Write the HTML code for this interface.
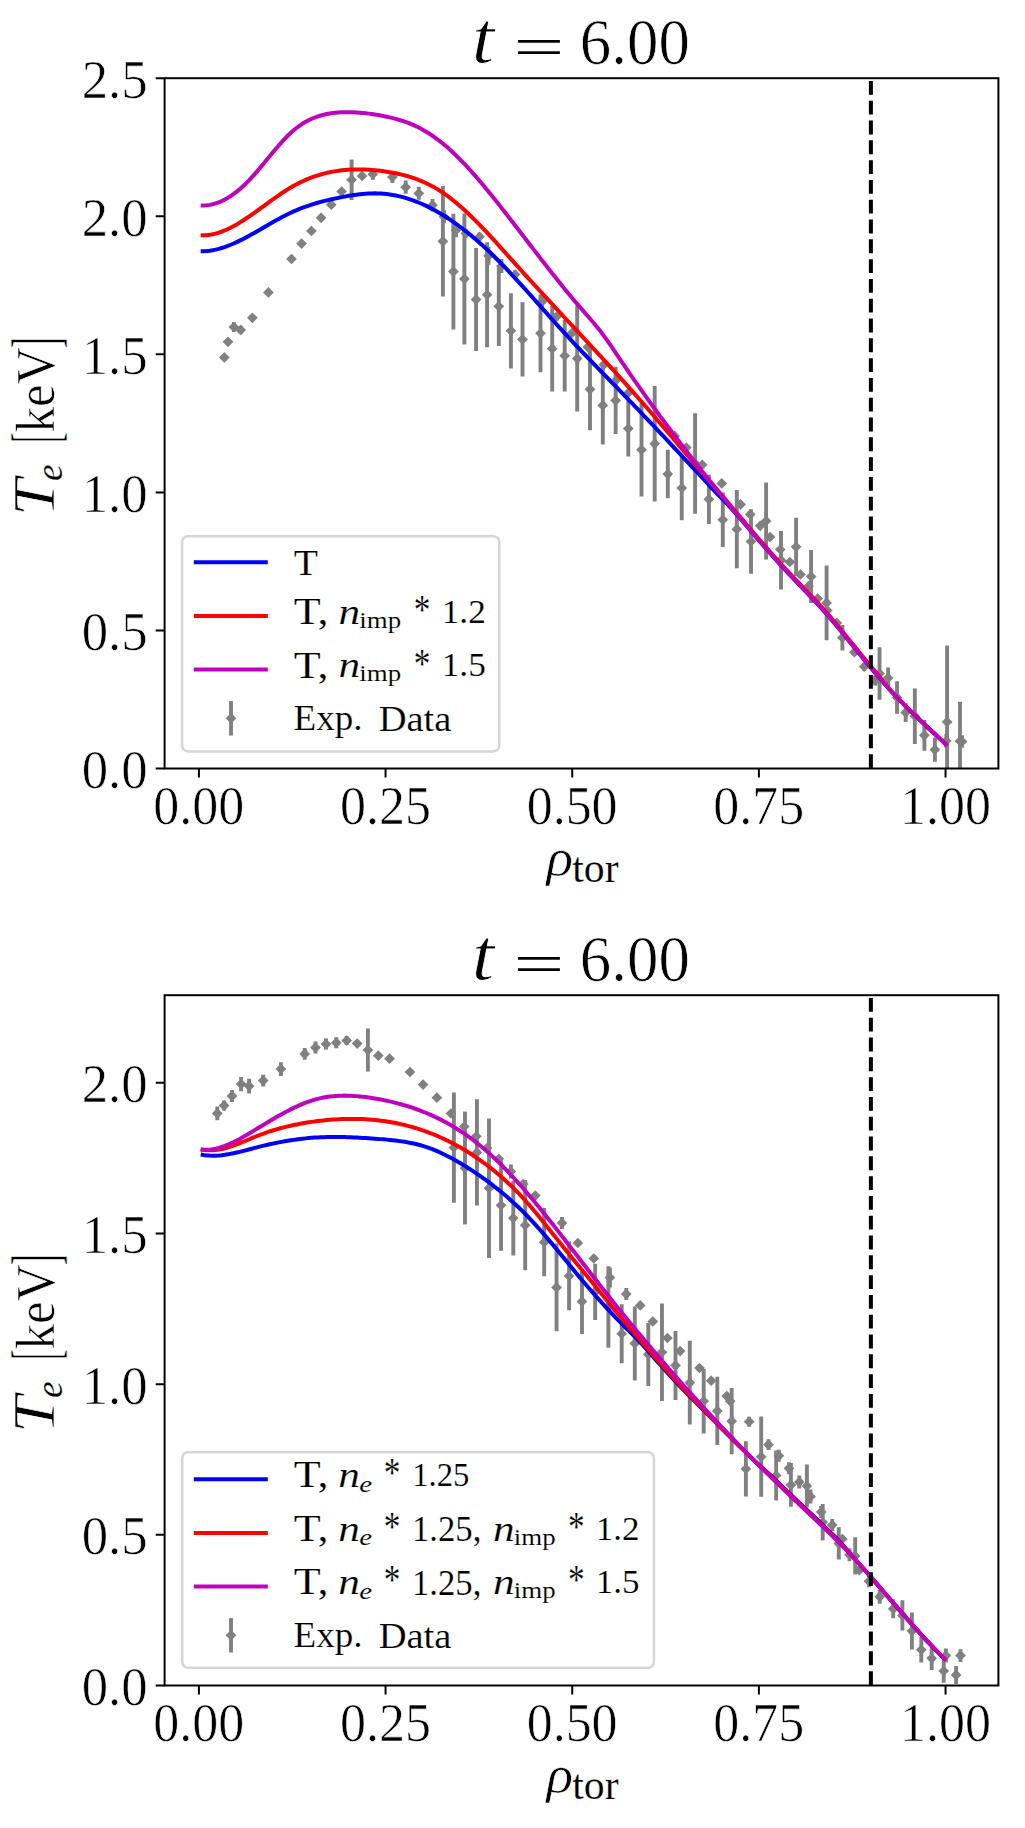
<!DOCTYPE html>
<html lang="en"><head><meta charset="utf-8"><title>T_e profiles, t = 6.00</title>
<style>html,body{margin:0;padding:0;background:#fff}svg{display:block}</style></head>
<body>
<svg width="1025" height="1828" viewBox="0 0 1025 1828" font-family="'Liberation Serif', serif" fill="#000">
<rect width="1025" height="1828" fill="#fff"/>
<defs><clipPath id="c1"><rect x="164.6" y="78.2" width="833.8" height="690.3"/></clipPath><clipPath id="c2"><rect x="164.6" y="995.2" width="833.8" height="690.3"/></clipPath></defs>
<g clip-path="url(#c1)">
<path d="M233.9 322V332M240.7 325.9V333.9M351.6 159.6V200M372.8 168.6V179.8M392.4 171.1V183.1M405.7 180.6V193.8M418.8 186.8V199.8M432.5 198.9V211.5M444 210.3V223.3M456 223.2V237.2M465.9 229.4V237.4M479.5 232.8V240.8M488.5 246.8V264.8M501.4 259.1V273.1M515.1 270.5V278.5M542 296.7V306.7M556.2 313.1V321.1M864.2 662.7V670.7M875.2 675.5V685.5M962 735.3V747.7M442.9 186V296.6M453.4 213.7V329.5M464.4 213.4V344.4M476.1 248.1V351M487.1 242.2V347.3M498.8 266.5V346.1M510.9 293.2V368.5M522.5 302.2V376.6M540.5 294.5V372.2M552.2 306V391.5M564.7 320.1V391.4M577.2 305.5V411.6M590 348.5V430.2M602.8 366.2V444.6M615.65 366.8V434.1M628.3 400.8V456.4M641.5 403V496.6M654.7 386V501.4M667.8 449.8V498.3M681.75 455.8V520.2M695.1 413.2V513.7M708.9 474.7V523.9M722.8 492.6V546.9M736.8 490.1V568.3M751 509.3V573.7M766.1 482.5V559.5M781 530.9V589.5M796.1 517.8V575.9M811.1 550V603M826.6 565.6V640.2M842.4 625.1V650.4M879.55 647.35V699.8M888.1 667.4V688.5M897.05 681.2V713.7M905.7 703.2V721.9M914.85 688.5V743.9M924.4 720V750.7M934.9 737.6V761.7M947.1 645.4V798.4M946.3 734V748M960 701.7V780.7" fill="none" stroke="#808080" stroke-width="3.9"/>
<path d="M224.3 352.03L229.67 357.4L224.3 362.77L218.93 357.4ZM228 336.43L233.37 341.8L228 347.17L222.63 341.8ZM233.9 321.63L239.27 327L233.9 332.37L228.53 327ZM240.7 324.53L246.07 329.9L240.7 335.27L235.33 329.9ZM252.4 312.43L257.77 317.8L252.4 323.17L247.03 317.8ZM268.4 287.03L273.77 292.4L268.4 297.77L263.03 292.4ZM291.5 253.63L296.87 259L291.5 264.37L286.13 259ZM301.6 238.23L306.97 243.6L301.6 248.97L296.23 243.6ZM311.4 225.63L316.77 231L311.4 236.37L306.03 231ZM321.1 212.43L326.47 217.8L321.1 223.17L315.73 217.8ZM331.3 199.33L336.67 204.7L331.3 210.07L325.93 204.7ZM341.6 186.13L346.97 191.5L341.6 196.87L336.23 191.5ZM351.6 174.43L356.97 179.8L351.6 185.17L346.23 179.8ZM362.1 170.53L367.47 175.9L362.1 181.27L356.73 175.9ZM372.8 168.83L378.17 174.2L372.8 179.57L367.43 174.2ZM392.4 171.73L397.77 177.1L392.4 182.47L387.03 177.1ZM405.7 181.83L411.07 187.2L405.7 192.57L400.33 187.2ZM418.8 187.93L424.17 193.3L418.8 198.67L413.43 193.3ZM432.5 199.83L437.87 205.2L432.5 210.57L427.13 205.2ZM444 211.43L449.37 216.8L444 222.17L438.63 216.8ZM456 224.83L461.37 230.2L456 235.57L450.63 230.2ZM465.9 228.03L471.27 233.4L465.9 238.77L460.53 233.4ZM479.5 231.43L484.87 236.8L479.5 242.17L474.13 236.8ZM488.5 250.43L493.87 255.8L488.5 261.17L483.13 255.8ZM501.4 260.73L506.77 266.1L501.4 271.47L496.03 266.1ZM515.1 269.13L520.47 274.5L515.1 279.87L509.73 274.5ZM542 296.33L547.37 301.7L542 307.07L536.63 301.7ZM556.2 311.73L561.57 317.1L556.2 322.47L550.83 317.1ZM572 327.63L577.37 333L572 338.37L566.63 333ZM587.8 341.73L593.17 347.1L587.8 352.47L582.43 347.1ZM603.9 359.23L609.27 364.6L603.9 369.97L598.53 364.6ZM617 373.93L622.37 379.3L617 384.67L611.63 379.3ZM628.8 387.03L634.17 392.4L628.8 397.77L623.43 392.4ZM674.6 430.53L679.97 435.9L674.6 441.27L669.23 435.9ZM686.3 442.23L691.67 447.6L686.3 452.97L680.93 447.6ZM702.2 459.43L707.57 464.8L702.2 470.17L696.83 464.8ZM721.8 478.03L727.17 483.4L721.8 488.77L716.43 483.4ZM740.6 499.03L745.97 504.4L740.6 509.77L735.23 504.4ZM750.2 509.03L755.57 514.4L750.2 519.77L744.83 514.4ZM760.2 520.43L765.57 525.8L760.2 531.17L754.83 525.8ZM770 531.73L775.37 537.1L770 542.47L764.63 537.1ZM780.2 544.13L785.57 549.5L780.2 554.87L774.83 549.5ZM789.8 556.63L795.17 562L789.8 567.37L784.43 562ZM800.5 569.13L805.87 574.5L800.5 579.87L795.13 574.5ZM808.5 580.83L813.87 586.2L808.5 591.57L803.13 586.2ZM817.7 593.23L823.07 598.6L817.7 603.97L812.33 598.6ZM827.3 605.13L832.67 610.5L827.3 615.87L821.93 610.5ZM836.8 617.53L842.17 622.9L836.8 628.27L831.43 622.9ZM854.4 646.83L859.77 652.2L854.4 657.57L849.03 652.2ZM864.2 661.33L869.57 666.7L864.2 672.07L858.83 666.7ZM875.2 675.13L880.57 680.5L875.2 685.87L869.83 680.5ZM962 736.13L967.37 741.5L962 746.87L956.63 741.5ZM442.9 235.93L448.27 241.3L442.9 246.67L437.53 241.3ZM453.4 266.23L458.77 271.6L453.4 276.97L448.03 271.6ZM464.4 273.53L469.77 278.9L464.4 284.27L459.03 278.9ZM476.1 294.18L481.47 299.55L476.1 304.92L470.73 299.55ZM487.1 289.38L492.47 294.75L487.1 300.12L481.73 294.75ZM498.8 300.93L504.17 306.3L498.8 311.67L493.43 306.3ZM510.9 325.48L516.27 330.85L510.9 336.22L505.53 330.85ZM522.5 334.03L527.87 339.4L522.5 344.77L517.13 339.4ZM540.5 327.98L545.87 333.35L540.5 338.72L535.13 333.35ZM552.2 343.38L557.57 348.75L552.2 354.12L546.83 348.75ZM564.7 350.38L570.07 355.75L564.7 361.12L559.33 355.75ZM577.2 353.18L582.57 358.55L577.2 363.92L571.83 358.55ZM590 383.98L595.37 389.35L590 394.72L584.63 389.35ZM602.8 400.03L608.17 405.4L602.8 410.77L597.43 405.4ZM615.65 395.08L621.02 400.45L615.65 405.82L610.28 400.45ZM628.3 423.23L633.67 428.6L628.3 433.97L622.93 428.6ZM641.5 444.43L646.87 449.8L641.5 455.17L636.13 449.8ZM654.7 438.33L660.07 443.7L654.7 449.07L649.33 443.7ZM667.8 468.68L673.17 474.05L667.8 479.42L662.43 474.05ZM681.75 482.63L687.12 488L681.75 493.37L676.38 488ZM695.1 458.08L700.47 463.45L695.1 468.82L689.73 463.45ZM708.9 493.93L714.27 499.3L708.9 504.67L703.53 499.3ZM722.8 514.38L728.17 519.75L722.8 525.12L717.43 519.75ZM736.8 523.83L742.17 529.2L736.8 534.57L731.43 529.2ZM751 536.13L756.37 541.5L751 546.87L745.63 541.5ZM766.1 515.63L771.47 521L766.1 526.37L760.73 521ZM781 554.83L786.37 560.2L781 565.57L775.63 560.2ZM796.1 541.48L801.47 546.85L796.1 552.22L790.73 546.85ZM811.1 571.13L816.47 576.5L811.1 581.87L805.73 576.5ZM826.6 597.53L831.97 602.9L826.6 608.27L821.23 602.9ZM842.4 632.38L847.77 637.75L842.4 643.12L837.03 637.75ZM879.55 668.2L884.92 673.58L879.55 678.95L874.18 673.58ZM888.1 672.58L893.47 677.95L888.1 683.32L882.73 677.95ZM897.05 692.08L902.42 697.45L897.05 702.82L891.68 697.45ZM905.7 707.18L911.07 712.55L905.7 717.92L900.33 712.55ZM914.85 710.83L920.22 716.2L914.85 721.57L909.48 716.2ZM924.4 729.98L929.77 735.35L924.4 740.72L919.03 735.35ZM934.9 744.28L940.27 749.65L934.9 755.02L929.53 749.65ZM947.1 716.53L952.47 721.9L947.1 727.27L941.73 721.9ZM946.3 735.63L951.67 741L946.3 746.37L940.93 741ZM960 735.83L965.37 741.2L960 746.57L954.63 741.2Z" fill="#808080"/>
<path d="M200.7 251.17 L203.7 251.17 L206.7 251.01 L209.7 250.69 L212.7 250.22 L215.7 249.61 L218.7 248.87 L221.7 248.01 L224.7 247.03 L227.7 245.94 L230.7 244.75 L233.7 243.47 L236.7 242.11 L239.7 240.68 L242.7 239.18 L245.7 237.62 L248.7 236 L251.7 234.35 L254.7 232.67 L257.7 230.95 L260.7 229.22 L263.7 227.48 L266.7 225.75 L269.7 224.01 L272.7 222.3 L275.7 220.6 L278.7 218.94 L281.7 217.32 L284.7 215.74 L287.7 214.23 L290.7 212.77 L293.7 211.39 L296.7 210.09 L299.7 208.85 L302.7 207.69 L305.7 206.59 L308.7 205.55 L311.7 204.57 L314.7 203.64 L317.7 202.77 L320.7 201.94 L323.7 201.16 L326.7 200.41 L329.7 199.7 L332.7 199.03 L335.7 198.38 L338.7 197.76 L341.7 197.16 L344.7 196.59 L347.7 196.05 L350.7 195.54 L353.7 195.07 L356.7 194.65 L359.7 194.28 L362.7 193.97 L365.7 193.71 L368.7 193.53 L371.7 193.41 L374.7 193.37 L377.7 193.4 L380.7 193.53 L383.7 193.74 L386.7 194.04 L389.7 194.43 L392.7 194.91 L395.7 195.47 L398.7 196.12 L401.7 196.85 L404.7 197.67 L407.7 198.57 L410.7 199.55 L413.7 200.62 L416.7 201.76 L419.7 202.98 L422.7 204.29 L425.7 205.67 L428.7 207.12 L431.7 208.66 L434.7 210.26 L437.7 211.95 L440.7 213.71 L443.7 215.54 L446.7 217.44 L449.7 219.41 L452.7 221.46 L455.7 223.57 L458.7 225.75 L461.7 228 L464.7 230.32 L467.7 232.7 L470.7 235.15 L473.7 237.66 L476.7 240.24 L479.7 242.88 L482.7 245.58 L485.7 248.34 L488.7 251.17 L491.7 254.05 L494.7 256.99 L497.7 259.98 L500.7 263.02 L503.7 266.1 L506.7 269.23 L509.7 272.4 L512.7 275.6 L515.7 278.83 L518.7 282.1 L521.7 285.38 L524.7 288.69 L527.7 292.02 L530.7 295.37 L533.7 298.72 L536.7 302.08 L539.7 305.45 L542.7 308.82 L545.7 312.19 L548.7 315.55 L551.7 318.91 L554.7 322.25 L557.7 325.57 L560.7 328.88 L563.7 332.16 L566.7 335.42 L569.7 338.65 L572.7 341.86 L575.7 345.05 L578.7 348.22 L581.7 351.37 L584.7 354.5 L587.7 357.62 L590.7 360.73 L593.7 363.83 L596.7 366.92 L599.7 370 L602.7 373.08 L605.7 376.15 L608.7 379.23 L611.7 382.3 L614.7 385.38 L617.7 388.46 L620.7 391.55 L623.7 394.65 L626.7 397.75 L629.7 400.86 L632.7 403.98 L635.7 407.1 L638.7 410.23 L641.7 413.37 L644.7 416.51 L647.7 419.66 L650.7 422.82 L653.7 425.98 L656.7 429.15 L659.7 432.32 L662.7 435.49 L665.7 438.68 L668.7 441.87 L671.7 445.06 L674.7 448.26 L677.7 451.46 L680.7 454.66 L683.7 457.88 L686.7 461.09 L689.7 464.31 L692.7 467.53 L695.7 470.76 L698.7 473.99 L701.7 477.23 L704.7 480.47 L707.7 483.71 L710.7 486.95 L713.7 490.2 L716.7 493.26 L719.7 496.24 L722.7 499.3 L725.7 502.43 L728.7 505.63 L731.7 508.91 L734.7 512.24 L737.7 515.62 L740.7 519.06 L743.7 522.53 L746.7 526.03 L749.7 529.55 L752.7 533.08 L755.7 536.59 L758.7 540.07 L761.7 543.53 L764.7 546.97 L767.7 550.39 L770.7 553.78 L773.7 557.14 L776.7 560.48 L779.7 563.78 L782.7 567.07 L785.7 570.32 L788.7 573.54 L791.7 576.73 L794.7 579.9 L797.7 583.05 L800.7 586.19 L803.7 589.32 L806.7 592.46 L809.7 595.62 L812.7 598.79 L815.7 601.99 L818.7 605.23 L821.7 608.52 L824.7 611.85 L827.7 615.24 L830.7 618.7 L833.7 622.23 L836.7 625.8 L839.7 629.43 L842.7 633.09 L845.7 636.78 L848.7 640.49 L851.7 644.21 L854.7 647.93 L857.7 651.64 L860.7 655.34 L863.7 659.02 L866.7 662.67 L869.7 666.3 L872.7 669.89 L875.7 673.45 L878.7 676.96 L881.7 680.44 L884.7 683.86 L887.7 687.23 L890.7 690.55 L893.7 693.8 L896.7 697 L899.7 700.14 L902.7 703.22 L905.7 706.25 L908.7 709.24 L911.7 712.19 L914.7 715.11 L917.7 717.99 L920.7 720.84 L923.7 723.67 L926.7 726.48 L929.7 729.28 L932.7 732.06 L935.7 734.84 L938.7 737.62 L941.7 740.39 L944.7 743.18 L947.1 745.41" fill="none" stroke="#0000ff" stroke-width="4.0" stroke-linejoin="round"/>
<path d="M200.7 235.24 L203.7 235.33 L206.7 235.19 L209.7 234.86 L212.7 234.32 L215.7 233.61 L218.7 232.73 L221.7 231.68 L224.7 230.48 L227.7 229.14 L230.7 227.68 L233.7 226.09 L236.7 224.4 L239.7 222.6 L242.7 220.73 L245.7 218.77 L248.7 216.75 L251.7 214.67 L254.7 212.55 L257.7 210.4 L260.7 208.22 L263.7 206.03 L266.7 203.84 L269.7 201.66 L272.7 199.5 L275.7 197.37 L278.7 195.28 L281.7 193.24 L284.7 191.26 L287.7 189.35 L290.7 187.53 L293.7 185.8 L296.7 184.17 L299.7 182.64 L302.7 181.21 L305.7 179.86 L308.7 178.61 L311.7 177.45 L314.7 176.38 L317.7 175.39 L320.7 174.48 L323.7 173.66 L326.7 172.91 L329.7 172.24 L332.7 171.65 L335.7 171.13 L338.7 170.69 L341.7 170.31 L344.7 170 L347.7 169.76 L350.7 169.58 L353.7 169.46 L356.7 169.41 L359.7 169.41 L362.7 169.46 L365.7 169.57 L368.7 169.73 L371.7 169.95 L374.7 170.21 L377.7 170.51 L380.7 170.86 L383.7 171.26 L386.7 171.69 L389.7 172.17 L392.7 172.7 L395.7 173.28 L398.7 173.92 L401.7 174.63 L404.7 175.39 L407.7 176.23 L410.7 177.15 L413.7 178.14 L416.7 179.21 L419.7 180.37 L422.7 181.62 L425.7 182.97 L428.7 184.41 L431.7 185.96 L434.7 187.62 L437.7 189.38 L440.7 191.27 L443.7 193.27 L446.7 195.39 L449.7 197.62 L452.7 199.96 L455.7 202.39 L458.7 204.93 L461.7 207.56 L464.7 210.27 L467.7 213.06 L470.7 215.93 L473.7 218.87 L476.7 221.87 L479.7 224.93 L482.7 228.04 L485.7 231.2 L488.7 234.41 L491.7 237.65 L494.7 240.92 L497.7 244.23 L500.7 247.55 L503.7 250.89 L506.7 254.24 L509.7 257.6 L512.7 260.95 L515.7 264.31 L518.7 267.65 L521.7 270.98 L524.7 274.29 L527.7 277.6 L530.7 280.89 L533.7 284.17 L536.7 287.44 L539.7 290.7 L542.7 293.96 L545.7 297.2 L548.7 300.44 L551.7 303.68 L554.7 306.91 L557.7 310.13 L560.7 313.35 L563.7 316.57 L566.7 319.79 L569.7 323.01 L572.7 326.22 L575.7 329.44 L578.7 332.65 L581.7 335.87 L584.7 339.09 L587.7 342.32 L590.7 345.55 L593.7 348.78 L596.7 352.03 L599.7 355.27 L602.7 358.53 L605.7 361.79 L608.7 365.06 L611.7 368.35 L614.7 371.64 L617.7 374.95 L620.7 378.26 L623.7 381.59 L626.7 384.94 L629.7 388.3 L632.7 391.67 L635.7 395.06 L638.7 398.47 L641.7 401.89 L644.7 405.32 L647.7 408.77 L650.7 412.23 L653.7 415.71 L656.7 419.19 L659.7 422.69 L662.7 426.19 L665.7 429.71 L668.7 433.23 L671.7 436.77 L674.7 440.3 L677.7 443.85 L680.7 447.4 L683.7 450.96 L686.7 454.52 L689.7 458.08 L692.7 461.65 L695.7 465.22 L698.7 468.79 L701.7 472.24 L704.7 475.61 L707.7 479.01 L710.7 482.44 L713.7 485.89 L716.7 489.37 L719.7 492.85 L722.7 496.36 L725.7 499.87 L728.7 503.4 L731.7 506.93 L734.7 510.46 L737.7 513.99 L740.7 517.54 L743.7 521.13 L746.7 524.7 L749.7 528.25 L752.7 531.78 L755.7 535.29 L758.7 538.77 L761.7 542.23 L764.7 545.67 L767.7 549.09 L770.7 552.48 L773.7 555.84 L776.7 559.18 L779.7 562.48 L782.7 565.77 L785.7 569.02 L788.7 572.24 L791.7 575.43 L794.7 578.6 L797.7 581.75 L800.7 584.89 L803.7 588.02 L806.7 591.16 L809.7 594.32 L812.7 597.49 L815.7 600.69 L818.7 603.93 L821.7 607.22 L824.7 610.55 L827.7 613.94 L830.7 617.4 L833.7 620.93 L836.7 624.5 L839.7 628.13 L842.7 631.79 L845.7 635.48 L848.7 639.19 L851.7 642.91 L854.7 646.63 L857.7 650.34 L860.7 654.04 L863.7 657.72 L866.7 661.37 L869.7 665 L872.7 668.59 L875.7 672.15 L878.7 675.74 L881.7 679.54 L884.7 683.29 L887.7 686.98 L890.7 690.55 L893.7 693.8 L896.7 697 L899.7 700.14 L902.7 703.22 L905.7 706.25 L908.7 709.24 L911.7 712.19 L914.7 715.11 L917.7 717.99 L920.7 720.84 L923.7 723.67 L926.7 726.48 L929.7 729.28 L932.7 732.06 L935.7 734.84 L938.7 737.62 L941.7 740.39 L944.7 743.18 L947.1 745.41" fill="none" stroke="#ff0000" stroke-width="4.0" stroke-linejoin="round"/>
<path d="M200.7 205.39 L203.7 205.44 L206.7 205.26 L209.7 204.86 L212.7 204.24 L215.7 203.4 L218.7 202.34 L221.7 201.07 L224.7 199.59 L227.7 197.91 L230.7 196.02 L233.7 193.94 L236.7 191.66 L239.7 189.19 L242.7 186.53 L245.7 183.69 L248.7 180.66 L251.7 177.46 L254.7 174.12 L257.7 170.65 L260.7 167.1 L263.7 163.48 L266.7 159.83 L269.7 156.18 L272.7 152.55 L275.7 148.97 L278.7 145.47 L281.7 142.08 L284.7 138.83 L287.7 135.75 L290.7 132.86 L293.7 130.19 L296.7 127.76 L299.7 125.55 L302.7 123.56 L305.7 121.77 L308.7 120.17 L311.7 118.75 L314.7 117.51 L317.7 116.43 L320.7 115.5 L323.7 114.7 L326.7 114.04 L329.7 113.5 L332.7 113.06 L335.7 112.72 L338.7 112.47 L341.7 112.29 L344.7 112.19 L347.7 112.15 L350.7 112.18 L353.7 112.28 L356.7 112.43 L359.7 112.64 L362.7 112.91 L365.7 113.24 L368.7 113.61 L371.7 114.03 L374.7 114.49 L377.7 115 L380.7 115.54 L383.7 116.12 L386.7 116.74 L389.7 117.4 L392.7 118.11 L395.7 118.88 L398.7 119.72 L401.7 120.63 L404.7 121.62 L407.7 122.71 L410.7 123.89 L413.7 125.18 L416.7 126.58 L419.7 128.08 L422.7 129.7 L425.7 131.44 L428.7 133.29 L431.7 135.25 L434.7 137.33 L437.7 139.52 L440.7 141.83 L443.7 144.26 L446.7 146.81 L449.7 149.46 L452.7 152.23 L455.7 155.09 L458.7 158.05 L461.7 161.1 L464.7 164.23 L467.7 167.45 L470.7 170.75 L473.7 174.11 L476.7 177.55 L479.7 181.04 L482.7 184.6 L485.7 188.21 L488.7 191.86 L491.7 195.56 L494.7 199.3 L497.7 203.08 L500.7 206.88 L503.7 210.7 L506.7 214.55 L509.7 218.41 L512.7 222.29 L515.7 226.18 L518.7 230.08 L521.7 233.98 L524.7 237.89 L527.7 241.8 L530.7 245.7 L533.7 249.6 L536.7 253.5 L539.7 257.38 L542.7 261.25 L545.7 265.1 L548.7 268.94 L551.7 272.75 L554.7 276.54 L557.7 280.3 L560.7 284.04 L563.7 287.74 L566.7 291.4 L569.7 295.03 L572.7 298.62 L575.7 302.17 L578.7 305.67 L581.7 309.13 L584.7 312.57 L587.7 316 L590.7 319.46 L593.7 322.99 L596.7 326.61 L599.7 330.35 L602.7 334.25 L605.7 338.33 L608.7 342.58 L611.7 346.94 L614.7 351.39 L617.7 355.86 L620.7 360.31 L623.7 364.74 L626.7 369.13 L629.7 373.5 L632.7 377.83 L635.7 382.14 L638.7 386.41 L641.7 390.66 L644.7 394.89 L647.7 399.08 L650.7 403.25 L653.7 407.39 L656.7 411.51 L659.7 415.61 L662.7 419.68 L665.7 423.72 L668.7 427.75 L671.7 431.75 L674.7 435.73 L677.7 439.69 L680.7 443.63 L683.7 447.55 L686.7 451.45 L689.7 455.33 L692.7 459.19 L695.7 463.03 L698.7 466.86 L701.7 470.67 L704.7 474.46 L707.7 478.24 L710.7 482.01 L713.7 485.75 L716.7 489.49 L719.7 493.21 L722.7 496.92 L725.7 500.61 L728.7 504.29 L731.7 507.95 L734.7 511.6 L737.7 515.23 L740.7 518.84 L743.7 522.43 L746.7 526 L749.7 529.55 L752.7 533.08 L755.7 536.59 L758.7 540.07 L761.7 543.53 L764.7 546.97 L767.7 550.39 L770.7 553.78 L773.7 557.14 L776.7 560.48 L779.7 563.78 L782.7 567.07 L785.7 570.32 L788.7 573.54 L791.7 576.73 L794.7 579.9 L797.7 583.05 L800.7 586.19 L803.7 589.32 L806.7 592.46 L809.7 595.62 L812.7 598.79 L815.7 601.99 L818.7 605.23 L821.7 608.52 L824.7 611.85 L827.7 615.24 L830.7 618.7 L833.7 622.23 L836.7 625.8 L839.7 629.43 L842.7 633.09 L845.7 636.78 L848.7 640.49 L851.7 644.21 L854.7 647.93 L857.7 651.64 L860.7 655.34 L863.7 659.02 L866.7 662.67 L869.7 666.3 L872.7 669.89 L875.7 673.45 L878.7 676.96 L881.7 680.44 L884.7 683.86 L887.7 687.23 L890.7 690.55 L893.7 693.8 L896.7 697 L899.7 700.14 L902.7 703.22 L905.7 706.25 L908.7 709.24 L911.7 712.19 L914.7 715.11 L917.7 717.99 L920.7 720.84 L923.7 723.67 L926.7 726.48 L929.7 729.28 L932.7 732.06 L935.7 734.84 L938.7 737.62 L941.7 740.39 L944.7 743.18 L947.1 745.41" fill="none" stroke="#bf00bf" stroke-width="4.0" stroke-linejoin="round"/>
<path d="M870.88 768.5V78.2" stroke="#000" stroke-width="4.0" stroke-dasharray="13.83 5.97" stroke-dashoffset="-0.5" fill="none"/>
</g>
<rect x="164.6" y="78.2" width="833.8" height="690.3" fill="none" stroke="#000" stroke-width="2"/>
<path d="M198.9 768.5v8.9M385.56 768.5v8.9M572.23 768.5v8.9M758.89 768.5v8.9M945.55 768.5v8.9M164.6 768.5h-8.9M164.6 630.45h-8.9M164.6 492.4h-8.9M164.6 354.35h-8.9M164.6 216.3h-8.9M164.6 78.25h-8.9" stroke="#000" stroke-width="2" fill="none"/>
<text transform="translate(153.32 824.18) scale(0.5198 0.5485)" font-size="100" stroke="#fff" stroke-width="1.10">0.00</text>
<text transform="translate(339.98 824.18) scale(0.5198 0.5485)" font-size="100" stroke="#fff" stroke-width="1.10">0.25</text>
<text transform="translate(526.65 824.18) scale(0.5198 0.5485)" font-size="100" stroke="#fff" stroke-width="1.10">0.50</text>
<text transform="translate(713.31 824.18) scale(0.5198 0.5485)" font-size="100" stroke="#fff" stroke-width="1.10">0.75</text>
<text transform="translate(899.97 824.18) scale(0.5198 0.5485)" font-size="100" stroke="#fff" stroke-width="1.10">1.00</text>
<text transform="translate(81.63 788.17) scale(0.5270 0.5556)" font-size="100" stroke="#fff" stroke-width="1.10">0.0</text>
<text transform="translate(81.63 650.12) scale(0.5270 0.5556)" font-size="100" stroke="#fff" stroke-width="1.10">0.5</text>
<text transform="translate(81.63 512.07) scale(0.5270 0.5556)" font-size="100" stroke="#fff" stroke-width="1.10">1.0</text>
<text transform="translate(81.63 374.02) scale(0.5270 0.5556)" font-size="100" stroke="#fff" stroke-width="1.10">1.5</text>
<text transform="translate(81.63 235.97) scale(0.5270 0.5556)" font-size="100" stroke="#fff" stroke-width="1.10">2.0</text>
<text transform="translate(81.63 98.32) scale(0.5270 0.5511)" font-size="100" stroke="#fff" stroke-width="1.10">2.5</text>
<text transform="translate(471.76 63.46) scale(0.8080 0.7404)" font-size="100" font-style="italic" stroke="#fff" stroke-width="1.10">t</text>
<text transform="translate(513.59 65.64) scale(0.9011 0.5680)" font-size="100" stroke="#fff" stroke-width="0.00">=</text>
<text transform="translate(579.87 63.71) scale(0.6282 0.6618)" font-size="100" stroke="#fff" stroke-width="1.10">6.00</text>
<text transform="translate(546.38 874.75) scale(0.5537 0.5309)" font-size="100" font-style="italic" stroke="#fff" stroke-width="1.10">ρ</text>
<text transform="translate(572.18 882.47) scale(0.4174 0.4281)" font-size="100" stroke="#fff" stroke-width="0.45">tor</text>
<g transform="translate(53.8 511.7) rotate(-90)">
<text transform="translate(-4.35 0.20) scale(0.6691 0.5862)" font-size="100" font-style="italic" stroke="#fff" stroke-width="1.10">T</text>
<text transform="translate(30.77 8.23) scale(0.3769 0.3687)" font-size="100" font-style="italic" stroke="#fff" stroke-width="0.45">e</text>
<text transform="translate(68.51 4.48) scale(0.3318 0.6679)" font-size="100" stroke="#fff" stroke-width="1.10">[</text>
<text transform="translate(79.18 -0.03) scale(0.5107 0.5532)" font-size="100" stroke="#fff" stroke-width="1.10">keV</text>
<text transform="translate(163.46 4.48) scale(0.3244 0.6679)" font-size="100" stroke="#fff" stroke-width="1.10">]</text>
</g>
<rect x="182.1" y="536.2" width="317.2" height="215.2" rx="6" ry="6" fill="#fff" fill-opacity="0.8" stroke="#ccc" stroke-opacity="0.8" stroke-width="2.5"/>
<path d="M193.8 562.3H267.8" stroke="#0000ff" stroke-width="4.0" fill="none"/>
<path d="M193.8 615.9H267.8" stroke="#ff0000" stroke-width="4.0" fill="none"/>
<path d="M193.8 669.4H267.8" stroke="#bf00bf" stroke-width="4.0" fill="none"/>
<path d="M231 701.1V735.5" stroke="#808080" stroke-width="3.9" fill="none"/>
<path d="M231 712.93L236.37 718.3L231 723.67L225.63 718.3Z" fill="#808080"/>
<text transform="translate(293.81 574.60) scale(0.3965 0.3600)" font-size="100" stroke="#fff" stroke-width="0.45">T</text>
<text transform="translate(293.72 624.00) scale(0.4411 0.3700)" font-size="100" stroke="#fff" stroke-width="0.45">T,</text>
<text transform="translate(338.48 623.93) scale(0.4329 0.3527)" font-size="100" font-style="italic" stroke="#fff" stroke-width="0.45">n</text>
<text transform="translate(359.36 627.90) scale(0.2689 0.2287)" font-size="100" stroke="#fff" stroke-width="0.45">imp</text>
<text transform="translate(413.64 624.02) scale(0.3325 0.4164)" font-size="100" stroke="#fff" stroke-width="0.45">*</text>
<text transform="translate(441.72 622.95) scale(0.3529 0.3363)" font-size="100" stroke="#fff" stroke-width="0.45">1.2</text>
<text transform="translate(293.72 677.50) scale(0.4411 0.3700)" font-size="100" stroke="#fff" stroke-width="0.45">T,</text>
<text transform="translate(338.48 677.43) scale(0.4329 0.3527)" font-size="100" font-style="italic" stroke="#fff" stroke-width="0.45">n</text>
<text transform="translate(359.36 681.40) scale(0.2689 0.2287)" font-size="100" stroke="#fff" stroke-width="0.45">imp</text>
<text transform="translate(413.64 677.52) scale(0.3325 0.4164)" font-size="100" stroke="#fff" stroke-width="0.45">*</text>
<text transform="translate(441.72 676.45) scale(0.3529 0.3363)" font-size="100" stroke="#fff" stroke-width="0.45">1.5</text>
<text transform="translate(293.59 729.77) scale(0.3711 0.3491)" font-size="100" stroke="#fff" stroke-width="0.45">Exp.</text>
<text transform="translate(378.64 730.64) scale(0.3859 0.3624)" font-size="100" stroke="#fff" stroke-width="0.45">Data</text>
<g clip-path="url(#c2)">
<path d="M217.3 1106.6V1120.2M224.1 1100.6V1110.6M232 1089.9V1101.9M241.1 1076.9V1091.3M249.1 1078.7V1093.5M263.2 1074.8V1086.4M280.9 1062.3V1075.9M304.7 1048V1059.8M315.5 1041.6V1053.4M326 1038.6V1049.6M336.3 1037.3V1048.3M346.7 1036.1V1045.1M367.9 1028.5V1071.5M510.9 1164.5V1178.5M562 1216.9V1228.9M609.9 1267.6V1287.6M626.3 1288.1V1300.1M749.1 1416.7V1426.7M768.5 1439.35V1449.95M778.8 1449.8V1461.8M789 1462.3V1474.3M799.3 1475.5V1488.5M810.5 1489.6V1503.6M821.2 1506V1518M832.2 1519.1V1531.1M849.5 1548.2V1561.2M859.4 1566.1V1574.1M869 1575.3V1587.3M879.7 1589.8V1603.8M893.2 1599.3V1618.3M902.4 1600.2V1630.6M911.9 1612.4V1649.6M921.3 1637V1662.6M931.7 1646.6V1670M943.7 1659.3V1682.7M945.9 1648.6V1662.6M956.1 1665.9V1683.9M960.5 1649.2V1662M453.9 1092.4V1202.7M465 1111.6V1224.5M476.95 1099.3V1205.6M489 1118.4V1258M501.05 1160V1250.7M513.3 1180.8V1255.4M525.2 1180V1270.3M544.2 1208.1V1276.3M556.55 1243.5V1331.3M569.1 1241.45V1310.3M582 1269V1333.9M595.15 1263.7V1320M608.4 1266.3V1347.8M621.7 1304.3V1363.2M634.8 1306.4V1380.4M648.3 1322.9V1385.9M661.95 1303.6V1401M675.5 1331V1399.9M689.8 1340.85V1424.6M703.7 1369V1433.4M717.3 1376.8V1445.1M731.7 1388V1454.3M745.9 1441.3V1496.6M761.2 1416.6V1496.8M776.15 1450.5V1500.5M790.9 1463V1506.8M806.9 1464.4V1507.6M822.7 1504V1540.5M838.8 1527.3V1559.5M855.2 1537.3V1574.6" fill="none" stroke="#808080" stroke-width="3.9"/>
<path d="M217.3 1108.03L222.67 1113.4L217.3 1118.77L211.93 1113.4ZM224.1 1100.23L229.47 1105.6L224.1 1110.97L218.73 1105.6ZM232 1090.53L237.37 1095.9L232 1101.27L226.63 1095.9ZM241.1 1078.73L246.47 1084.1L241.1 1089.47L235.73 1084.1ZM249.1 1080.73L254.47 1086.1L249.1 1091.47L243.73 1086.1ZM263.2 1075.23L268.57 1080.6L263.2 1085.97L257.83 1080.6ZM280.9 1063.73L286.27 1069.1L280.9 1074.47L275.53 1069.1ZM304.7 1048.53L310.07 1053.9L304.7 1059.27L299.33 1053.9ZM315.5 1042.13L320.87 1047.5L315.5 1052.87L310.13 1047.5ZM326 1038.73L331.37 1044.1L326 1049.47L320.63 1044.1ZM336.3 1037.43L341.67 1042.8L336.3 1048.17L330.93 1042.8ZM346.7 1035.23L352.07 1040.6L346.7 1045.97L341.33 1040.6ZM357.2 1038.23L362.57 1043.6L357.2 1048.97L351.83 1043.6ZM367.9 1044.63L373.27 1050L367.9 1055.37L362.53 1050ZM378.3 1050.33L383.67 1055.7L378.3 1061.07L372.93 1055.7ZM389.6 1053.33L394.97 1058.7L389.6 1064.07L384.23 1058.7ZM410 1066.63L415.37 1072L410 1077.37L404.63 1072ZM423.1 1079.23L428.47 1084.6L423.1 1089.97L417.73 1084.6ZM436.9 1092.33L442.27 1097.7L436.9 1103.07L431.53 1097.7ZM451 1108.13L456.37 1113.5L451 1118.87L445.63 1113.5ZM464.2 1121.23L469.57 1126.6L464.2 1131.97L458.83 1126.6ZM476.3 1130.93L481.67 1136.3L476.3 1141.67L470.93 1136.3ZM487.1 1142.63L492.47 1148L487.1 1153.37L481.73 1148ZM498.8 1153.43L504.17 1158.8L498.8 1164.17L493.43 1158.8ZM510.9 1166.13L516.27 1171.5L510.9 1176.87L505.53 1171.5ZM523.2 1178.73L528.57 1184.1L523.2 1189.47L517.83 1184.1ZM535.3 1190.23L540.67 1195.6L535.3 1200.97L529.93 1195.6ZM562 1217.53L567.37 1222.9L562 1228.27L556.63 1222.9ZM577.85 1237.63L583.22 1243L577.85 1248.37L572.48 1243ZM593.8 1253.13L599.17 1258.5L593.8 1263.87L588.43 1258.5ZM609.9 1272.23L615.27 1277.6L609.9 1282.97L604.53 1277.6ZM626.3 1288.73L631.67 1294.1L626.3 1299.47L620.93 1294.1ZM640.2 1300.03L645.57 1305.4L640.2 1310.77L634.83 1305.4ZM652.8 1316.13L658.17 1321.5L652.8 1326.87L647.43 1321.5ZM667.4 1332.63L672.77 1338L667.4 1343.37L662.03 1338ZM680.1 1345.73L685.47 1351.1L680.1 1356.47L674.73 1351.1ZM699.5 1362.63L704.87 1368L699.5 1373.37L694.13 1368ZM711.2 1375.33L716.57 1380.7L711.2 1386.07L705.83 1380.7ZM726.8 1390.73L732.17 1396.1L726.8 1401.47L721.43 1396.1ZM730.2 1395.83L735.57 1401.2L730.2 1406.57L724.83 1401.2ZM749.1 1416.33L754.47 1421.7L749.1 1427.07L743.73 1421.7ZM768.5 1439.28L773.87 1444.65L768.5 1450.02L763.13 1444.65ZM778.8 1450.43L784.17 1455.8L778.8 1461.17L773.43 1455.8ZM789 1462.93L794.37 1468.3L789 1473.67L783.63 1468.3ZM799.3 1476.63L804.67 1482L799.3 1487.37L793.93 1482ZM810.5 1491.23L815.87 1496.6L810.5 1501.97L805.13 1496.6ZM821.2 1506.63L826.57 1512L821.2 1517.37L815.83 1512ZM832.2 1519.73L837.57 1525.1L832.2 1530.47L826.83 1525.1ZM842.4 1533.63L847.77 1539L842.4 1544.37L837.03 1539ZM849.5 1549.33L854.87 1554.7L849.5 1560.07L844.13 1554.7ZM859.4 1564.73L864.77 1570.1L859.4 1575.47L854.03 1570.1ZM869 1575.93L874.37 1581.3L869 1586.67L863.63 1581.3ZM879.7 1591.43L885.07 1596.8L879.7 1602.17L874.33 1596.8ZM893.2 1603.43L898.57 1608.8L893.2 1614.17L887.83 1608.8ZM902.4 1610.03L907.77 1615.4L902.4 1620.77L897.03 1615.4ZM911.9 1625.63L917.27 1631L911.9 1636.37L906.53 1631ZM921.3 1644.43L926.67 1649.8L921.3 1655.17L915.93 1649.8ZM931.7 1652.93L937.07 1658.3L931.7 1663.67L926.33 1658.3ZM943.7 1665.63L949.07 1671L943.7 1676.37L938.33 1671ZM945.9 1650.23L951.27 1655.6L945.9 1660.97L940.53 1655.6ZM956.1 1669.53L961.47 1674.9L956.1 1680.27L950.73 1674.9ZM960.5 1650.23L965.87 1655.6L960.5 1660.97L955.13 1655.6ZM453.9 1142.18L459.27 1147.55L453.9 1152.92L448.53 1147.55ZM465 1162.68L470.37 1168.05L465 1173.42L459.63 1168.05ZM476.95 1147.08L482.32 1152.45L476.95 1157.82L471.58 1152.45ZM489 1182.83L494.37 1188.2L489 1193.57L483.63 1188.2ZM501.05 1199.98L506.42 1205.35L501.05 1210.72L495.68 1205.35ZM513.3 1212.73L518.67 1218.1L513.3 1223.47L507.93 1218.1ZM525.2 1219.78L530.57 1225.15L525.2 1230.52L519.83 1225.15ZM544.2 1236.83L549.57 1242.2L544.2 1247.57L538.83 1242.2ZM556.55 1282.03L561.92 1287.4L556.55 1292.77L551.18 1287.4ZM569.1 1270.5L574.47 1275.88L569.1 1281.25L563.73 1275.88ZM582 1296.08L587.37 1301.45L582 1306.82L576.63 1301.45ZM595.15 1286.48L600.52 1291.85L595.15 1297.22L589.78 1291.85ZM608.4 1301.68L613.77 1307.05L608.4 1312.42L603.03 1307.05ZM621.7 1328.38L627.07 1333.75L621.7 1339.12L616.33 1333.75ZM634.8 1338.03L640.17 1343.4L634.8 1348.77L629.43 1343.4ZM648.3 1349.03L653.67 1354.4L648.3 1359.77L642.93 1354.4ZM661.95 1346.93L667.32 1352.3L661.95 1357.67L656.58 1352.3ZM675.5 1360.08L680.87 1365.45L675.5 1370.82L670.13 1365.45ZM689.8 1377.35L695.17 1382.72L689.8 1388.1L684.43 1382.72ZM703.7 1395.83L709.07 1401.2L703.7 1406.57L698.33 1401.2ZM717.3 1405.58L722.67 1410.95L717.3 1416.32L711.93 1410.95ZM731.7 1415.78L737.07 1421.15L731.7 1426.52L726.33 1421.15ZM745.9 1463.58L751.27 1468.95L745.9 1474.32L740.53 1468.95ZM761.2 1451.33L766.57 1456.7L761.2 1462.07L755.83 1456.7ZM776.15 1470.13L781.52 1475.5L776.15 1480.87L770.78 1475.5ZM790.9 1479.53L796.27 1484.9L790.9 1490.27L785.53 1484.9ZM806.9 1480.63L812.27 1486L806.9 1491.37L801.53 1486ZM822.7 1516.88L828.07 1522.25L822.7 1527.62L817.33 1522.25ZM838.8 1538.03L844.17 1543.4L838.8 1548.77L833.43 1543.4ZM855.2 1550.58L860.57 1555.95L855.2 1561.32L849.83 1555.95Z" fill="#808080"/>
<path d="M200.7 1154.52 L203.7 1155.03 L206.7 1155.39 L209.7 1155.61 L212.7 1155.68 L215.7 1155.63 L218.7 1155.46 L221.7 1155.19 L224.7 1154.81 L227.7 1154.35 L230.7 1153.81 L233.7 1153.21 L236.7 1152.55 L239.7 1151.84 L242.7 1151.09 L245.7 1150.32 L248.7 1149.53 L251.7 1148.74 L254.7 1147.94 L257.7 1147.16 L260.7 1146.4 L263.7 1145.67 L266.7 1144.97 L269.7 1144.29 L272.7 1143.63 L275.7 1143.01 L278.7 1142.41 L281.7 1141.84 L284.7 1141.3 L287.7 1140.79 L290.7 1140.31 L293.7 1139.86 L296.7 1139.45 L299.7 1139.06 L302.7 1138.7 L305.7 1138.38 L308.7 1138.09 L311.7 1137.83 L314.7 1137.61 L317.7 1137.42 L320.7 1137.27 L323.7 1137.15 L326.7 1137.06 L329.7 1137 L332.7 1136.97 L335.7 1136.96 L338.7 1136.98 L341.7 1137.03 L344.7 1137.09 L347.7 1137.18 L350.7 1137.29 L353.7 1137.41 L356.7 1137.56 L359.7 1137.71 L362.7 1137.88 L365.7 1138.07 L368.7 1138.26 L371.7 1138.46 L374.7 1138.67 L377.7 1138.89 L380.7 1139.12 L383.7 1139.36 L386.7 1139.62 L389.7 1139.9 L392.7 1140.21 L395.7 1140.56 L398.7 1140.94 L401.7 1141.36 L404.7 1141.84 L407.7 1142.36 L410.7 1142.94 L413.7 1143.58 L416.7 1144.28 L419.7 1145.06 L422.7 1145.91 L425.7 1146.84 L428.7 1147.86 L431.7 1148.96 L434.7 1150.15 L437.7 1151.42 L440.7 1152.77 L443.7 1154.19 L446.7 1155.68 L449.7 1157.23 L452.7 1158.85 L455.7 1160.53 L458.7 1162.26 L461.7 1164.05 L464.7 1165.88 L467.7 1167.76 L470.7 1169.68 L473.7 1171.64 L476.7 1173.64 L479.7 1175.69 L482.7 1177.8 L485.7 1179.95 L488.7 1182.15 L491.7 1184.41 L494.7 1186.72 L497.7 1189.1 L500.7 1191.53 L503.7 1194.03 L506.7 1196.59 L509.7 1199.22 L512.7 1201.91 L515.7 1204.68 L518.7 1207.52 L521.7 1210.43 L524.7 1213.42 L527.7 1216.49 L530.7 1219.64 L533.7 1222.86 L536.7 1226.14 L539.7 1229.49 L542.7 1232.89 L545.7 1236.34 L548.7 1239.84 L551.7 1243.39 L554.7 1246.96 L557.7 1250.57 L560.7 1254.21 L563.7 1257.86 L566.7 1261.53 L569.7 1265.2 L572.7 1268.86 L575.7 1272.51 L578.7 1276.14 L581.7 1279.74 L584.7 1283.3 L587.7 1286.82 L590.7 1290.29 L593.7 1293.71 L596.7 1297.09 L599.7 1300.43 L602.7 1303.72 L605.7 1306.97 L608.7 1310.19 L611.7 1313.37 L614.7 1316.52 L617.7 1319.64 L620.7 1322.73 L623.7 1325.79 L626.7 1328.73 L629.7 1331.63 L632.7 1334.6 L635.7 1337.65 L638.7 1340.76 L641.7 1343.95 L644.7 1347.21 L647.7 1350.54 L650.7 1353.94 L653.7 1357.44 L656.7 1360.88 L659.7 1364.21 L662.7 1367.52 L665.7 1370.82 L668.7 1374.1 L671.7 1377.37 L674.7 1380.62 L677.7 1383.85 L680.7 1387.04 L683.7 1390.13 L686.7 1393.2 L689.7 1396.25 L692.7 1399.28 L695.7 1402.31 L698.7 1405.31 L701.7 1408.3 L704.7 1411.28 L707.7 1414.24 L710.7 1417.32 L713.7 1420.4 L716.7 1423.46 L719.7 1426.51 L722.7 1429.55 L725.7 1432.57 L728.7 1435.57 L731.7 1438.56 L734.7 1441.54 L737.7 1444.5 L740.7 1447.45 L743.7 1450.38 L746.7 1453.3 L749.7 1456.21 L752.7 1459.1 L755.7 1461.94 L758.7 1464.65 L761.7 1467.34 L764.7 1470.02 L767.7 1472.68 L770.7 1475.33 L773.7 1478.14 L776.7 1481.06 L779.7 1483.97 L782.7 1486.87 L785.7 1489.76 L788.7 1492.63 L791.7 1495.49 L794.7 1498.33 L797.7 1501.17 L800.7 1504 L803.7 1506.83 L806.7 1509.66 L809.7 1512.48 L812.7 1515.32 L815.7 1518.16 L818.7 1521.01 L821.7 1523.88 L824.7 1526.77 L827.7 1529.67 L830.7 1532.6 L833.7 1535.55 L836.7 1538.54 L839.7 1541.55 L842.7 1544.98 L845.7 1548.49 L848.7 1552.04 L851.7 1555.64 L854.7 1558.9 L857.7 1562.17 L860.7 1565.48 L863.7 1568.84 L866.7 1572.24 L869.7 1575.67 L872.7 1579.12 L875.7 1582.59 L878.7 1586.07 L881.7 1589.56 L884.7 1593.04 L887.7 1596.53 L890.7 1600 L893.7 1603.47 L896.7 1606.93 L899.7 1610.38 L902.7 1613.82 L905.7 1617.24 L908.7 1620.64 L911.7 1624.02 L914.7 1627.37 L917.7 1630.7 L920.7 1634.01 L923.7 1637.28 L926.7 1640.53 L929.7 1643.73 L932.7 1646.91 L935.7 1650.04 L938.7 1653.14 L941.7 1656.19 L944.7 1659.19 L945.9 1660.38" fill="none" stroke="#0000ff" stroke-width="4.0" stroke-linejoin="round"/>
<path d="M200.7 1149.29 L203.7 1149.87 L206.7 1150.22 L209.7 1150.35 L212.7 1150.28 L215.7 1150.02 L218.7 1149.6 L221.7 1149.02 L224.7 1148.3 L227.7 1147.46 L230.7 1146.52 L233.7 1145.48 L236.7 1144.37 L239.7 1143.2 L242.7 1141.98 L245.7 1140.73 L248.7 1139.47 L251.7 1138.22 L254.7 1136.98 L257.7 1135.77 L260.7 1134.62 L263.7 1133.51 L266.7 1132.46 L269.7 1131.46 L272.7 1130.5 L275.7 1129.59 L278.7 1128.72 L281.7 1127.9 L284.7 1127.13 L287.7 1126.39 L290.7 1125.7 L293.7 1125.04 L296.7 1124.42 L299.7 1123.84 L302.7 1123.3 L305.7 1122.79 L308.7 1122.31 L311.7 1121.87 L314.7 1121.45 L317.7 1121.07 L320.7 1120.71 L323.7 1120.39 L326.7 1120.09 L329.7 1119.83 L332.7 1119.59 L335.7 1119.39 L338.7 1119.22 L341.7 1119.09 L344.7 1118.98 L347.7 1118.92 L350.7 1118.89 L353.7 1118.89 L356.7 1118.93 L359.7 1119.01 L362.7 1119.12 L365.7 1119.28 L368.7 1119.47 L371.7 1119.7 L374.7 1119.98 L377.7 1120.29 L380.7 1120.65 L383.7 1121.04 L386.7 1121.48 L389.7 1121.97 L392.7 1122.5 L395.7 1123.07 L398.7 1123.69 L401.7 1124.35 L404.7 1125.06 L407.7 1125.82 L410.7 1126.63 L413.7 1127.48 L416.7 1128.39 L419.7 1129.34 L422.7 1130.35 L425.7 1131.4 L428.7 1132.51 L431.7 1133.67 L434.7 1134.88 L437.7 1136.15 L440.7 1137.47 L443.7 1138.85 L446.7 1140.28 L449.7 1141.77 L452.7 1143.31 L455.7 1144.91 L458.7 1146.57 L461.7 1148.29 L464.7 1150.07 L467.7 1151.91 L470.7 1153.81 L473.7 1155.77 L476.7 1157.79 L479.7 1159.88 L482.7 1162.03 L485.7 1164.24 L488.7 1166.51 L491.7 1168.86 L494.7 1171.27 L497.7 1173.75 L500.7 1176.31 L503.7 1178.95 L506.7 1181.67 L509.7 1184.47 L512.7 1187.36 L515.7 1190.34 L518.7 1193.41 L521.7 1196.57 L524.7 1199.84 L527.7 1203.21 L530.7 1206.67 L533.7 1210.21 L536.7 1213.82 L539.7 1217.5 L542.7 1221.21 L545.7 1224.96 L548.7 1228.73 L551.7 1232.5 L554.7 1236.28 L557.7 1240.05 L560.7 1243.82 L563.7 1247.58 L566.7 1251.33 L569.7 1255.06 L572.7 1258.78 L575.7 1262.45 L578.7 1266.06 L581.7 1269.68 L584.7 1273.32 L587.7 1276.95 L590.7 1280.59 L593.7 1284.24 L596.7 1287.93 L599.7 1291.64 L602.7 1295.36 L605.7 1299.1 L608.7 1302.86 L611.7 1306.55 L614.7 1310.15 L617.7 1313.74 L620.7 1317.31 L623.7 1320.88 L626.7 1324.42 L629.7 1327.95 L632.7 1331.46 L635.7 1334.95 L638.7 1338.43 L641.7 1341.89 L644.7 1345.34 L647.7 1348.76 L650.7 1352.18 L653.7 1355.63 L656.7 1359.06 L659.7 1362.47 L662.7 1365.86 L665.7 1369.24 L668.7 1372.6 L671.7 1375.95 L674.7 1379.28 L677.7 1382.59 L680.7 1385.86 L683.7 1389.03 L686.7 1392.19 L689.7 1395.33 L692.7 1398.45 L695.7 1401.55 L698.7 1404.65 L701.7 1407.72 L704.7 1410.78 L707.7 1413.83 L710.7 1416.95 L713.7 1420.07 L716.7 1423.17 L719.7 1426.26 L722.7 1429.33 L725.7 1432.39 L728.7 1435.43 L731.7 1438.46 L734.7 1441.47 L737.7 1444.47 L740.7 1447.45 L743.7 1450.38 L746.7 1453.3 L749.7 1456.21 L752.7 1459.1 L755.7 1461.98 L758.7 1464.82 L761.7 1467.66 L764.7 1470.47 L767.7 1473.28 L770.7 1476.07 L773.7 1478.94 L776.7 1481.86 L779.7 1484.77 L782.7 1487.67 L785.7 1490.56 L788.7 1493.43 L791.7 1496.29 L794.7 1499.13 L797.7 1501.97 L800.7 1504.8 L803.7 1507.63 L806.7 1510.46 L809.7 1513.28 L812.7 1516.12 L815.7 1518.96 L818.7 1521.81 L821.7 1524.68 L824.7 1527.57 L827.7 1530.47 L830.7 1533.4 L833.7 1536.35 L836.7 1539.34 L839.7 1542.35 L842.7 1545.6 L845.7 1548.91 L848.7 1552.26 L851.7 1555.66 L854.7 1558.9 L857.7 1562.17 L860.7 1565.48 L863.7 1568.84 L866.7 1572.24 L869.7 1575.67 L872.7 1579.12 L875.7 1582.59 L878.7 1586.07 L881.7 1589.56 L884.7 1593.04 L887.7 1596.53 L890.7 1600 L893.7 1603.47 L896.7 1606.93 L899.7 1610.38 L902.7 1613.82 L905.7 1617.24 L908.7 1620.64 L911.7 1624.02 L914.7 1627.37 L917.7 1630.7 L920.7 1634.01 L923.7 1637.28 L926.7 1640.53 L929.7 1643.73 L932.7 1646.91 L935.7 1650.04 L938.7 1653.14 L941.7 1656.19 L944.7 1659.19 L945.9 1660.38" fill="none" stroke="#ff0000" stroke-width="4.0" stroke-linejoin="round"/>
<path d="M200.7 1149.68 L203.7 1149.87 L206.7 1149.85 L209.7 1149.63 L212.7 1149.22 L215.7 1148.63 L218.7 1147.87 L221.7 1146.96 L224.7 1145.91 L227.7 1144.72 L230.7 1143.42 L233.7 1142.01 L236.7 1140.51 L239.7 1138.92 L242.7 1137.26 L245.7 1135.55 L248.7 1133.78 L251.7 1131.98 L254.7 1130.16 L257.7 1128.33 L260.7 1126.49 L263.7 1124.67 L266.7 1122.85 L269.7 1121.06 L272.7 1119.28 L275.7 1117.54 L278.7 1115.82 L281.7 1114.14 L284.7 1112.51 L287.7 1110.93 L290.7 1109.39 L293.7 1107.92 L296.7 1106.51 L299.7 1105.17 L302.7 1103.9 L305.7 1102.71 L308.7 1101.61 L311.7 1100.59 L314.7 1099.67 L317.7 1098.85 L320.7 1098.13 L323.7 1097.51 L326.7 1096.98 L329.7 1096.55 L332.7 1096.2 L335.7 1095.93 L338.7 1095.75 L341.7 1095.64 L344.7 1095.6 L347.7 1095.64 L350.7 1095.74 L353.7 1095.9 L356.7 1096.12 L359.7 1096.39 L362.7 1096.71 L365.7 1097.08 L368.7 1097.5 L371.7 1097.95 L374.7 1098.45 L377.7 1098.97 L380.7 1099.53 L383.7 1100.12 L386.7 1100.74 L389.7 1101.41 L392.7 1102.11 L395.7 1102.85 L398.7 1103.63 L401.7 1104.46 L404.7 1105.32 L407.7 1106.24 L410.7 1107.2 L413.7 1108.2 L416.7 1109.26 L419.7 1110.37 L422.7 1111.53 L425.7 1112.74 L428.7 1114 L431.7 1115.33 L434.7 1116.71 L437.7 1118.15 L440.7 1119.64 L443.7 1121.2 L446.7 1122.83 L449.7 1124.51 L452.7 1126.27 L455.7 1128.09 L458.7 1129.97 L461.7 1131.93 L464.7 1133.96 L467.7 1136.06 L470.7 1138.23 L473.7 1140.48 L476.7 1142.81 L479.7 1145.21 L482.7 1147.7 L485.7 1150.26 L488.7 1152.9 L491.7 1155.63 L494.7 1158.43 L497.7 1161.31 L500.7 1164.27 L503.7 1167.29 L506.7 1170.38 L509.7 1173.53 L512.7 1176.75 L515.7 1180.03 L518.7 1183.36 L521.7 1186.75 L524.7 1190.19 L527.7 1193.68 L530.7 1197.21 L533.7 1200.79 L536.7 1204.41 L539.7 1208.06 L542.7 1211.75 L545.7 1215.47 L548.7 1219.23 L551.7 1223.01 L554.7 1226.81 L557.7 1230.63 L560.7 1234.48 L563.7 1238.34 L566.7 1242.21 L569.7 1246.1 L572.7 1249.99 L575.7 1253.89 L578.7 1257.79 L581.7 1261.69 L584.7 1265.59 L587.7 1269.48 L590.7 1273.36 L593.7 1277.23 L596.7 1281.09 L599.7 1284.94 L602.7 1288.76 L605.7 1292.57 L608.7 1296.36 L611.7 1300.13 L614.7 1303.89 L617.7 1307.63 L620.7 1311.35 L623.7 1315.05 L626.7 1318.73 L629.7 1322.4 L632.7 1326.05 L635.7 1329.69 L638.7 1333.3 L641.7 1336.9 L644.7 1340.49 L647.7 1344.06 L650.7 1347.61 L653.7 1351.14 L656.7 1354.66 L659.7 1358.16 L662.7 1361.64 L665.7 1365.11 L668.7 1368.56 L671.7 1372 L674.7 1375.42 L677.7 1378.82 L680.7 1382.21 L683.7 1385.58 L686.7 1388.94 L689.7 1392.28 L692.7 1395.61 L695.7 1398.92 L698.7 1402.22 L701.7 1405.5 L704.7 1408.76 L707.7 1412.01 L710.7 1415.24 L713.7 1418.46 L716.7 1421.67 L719.7 1424.86 L722.7 1428.03 L725.7 1431.2 L728.7 1434.34 L731.7 1437.47 L734.7 1440.59 L737.7 1443.69 L740.7 1446.78 L743.7 1449.86 L746.7 1452.92 L749.7 1455.96 L752.7 1459 L755.7 1462.01 L758.7 1465.02 L761.7 1468.01 L764.7 1470.99 L767.7 1473.95 L770.7 1476.9 L773.7 1479.84 L776.7 1482.76 L779.7 1485.67 L782.7 1488.57 L785.7 1491.46 L788.7 1494.33 L791.7 1497.19 L794.7 1500.03 L797.7 1502.87 L800.7 1505.7 L803.7 1508.53 L806.7 1511.36 L809.7 1514.18 L812.7 1517.02 L815.7 1519.86 L818.7 1522.71 L821.7 1525.58 L824.7 1528.47 L827.7 1531.37 L830.7 1534.3 L833.7 1537.25 L836.7 1540.24 L839.7 1543.25 L842.7 1546.3 L845.7 1549.39 L848.7 1552.51 L851.7 1555.68 L854.7 1558.9 L857.7 1562.17 L860.7 1565.48 L863.7 1568.84 L866.7 1572.24 L869.7 1575.67 L872.7 1579.12 L875.7 1582.59 L878.7 1586.07 L881.7 1589.56 L884.7 1593.04 L887.7 1596.53 L890.7 1600 L893.7 1603.47 L896.7 1606.93 L899.7 1610.38 L902.7 1613.82 L905.7 1617.24 L908.7 1620.64 L911.7 1624.02 L914.7 1627.37 L917.7 1630.7 L920.7 1634.01 L923.7 1637.28 L926.7 1640.53 L929.7 1643.73 L932.7 1646.91 L935.7 1650.04 L938.7 1653.14 L941.7 1656.19 L944.7 1659.19 L945.9 1660.38" fill="none" stroke="#bf00bf" stroke-width="4.0" stroke-linejoin="round"/>
<path d="M870.88 1685.5V995.2" stroke="#000" stroke-width="4.0" stroke-dasharray="13.83 5.97" stroke-dashoffset="-0.5" fill="none"/>
</g>
<rect x="164.6" y="995.2" width="833.8" height="690.3" fill="none" stroke="#000" stroke-width="2"/>
<path d="M198.9 1685.5v8.9M385.56 1685.5v8.9M572.23 1685.5v8.9M758.89 1685.5v8.9M945.55 1685.5v8.9M164.6 1685.5h-8.9M164.6 1534.83h-8.9M164.6 1384.15h-8.9M164.6 1233.47h-8.9M164.6 1082.8h-8.9" stroke="#000" stroke-width="2" fill="none"/>
<text transform="translate(153.32 1741.18) scale(0.5198 0.5485)" font-size="100" stroke="#fff" stroke-width="1.10">0.00</text>
<text transform="translate(339.98 1741.18) scale(0.5198 0.5485)" font-size="100" stroke="#fff" stroke-width="1.10">0.25</text>
<text transform="translate(526.65 1741.18) scale(0.5198 0.5485)" font-size="100" stroke="#fff" stroke-width="1.10">0.50</text>
<text transform="translate(713.31 1741.18) scale(0.5198 0.5485)" font-size="100" stroke="#fff" stroke-width="1.10">0.75</text>
<text transform="translate(899.97 1741.18) scale(0.5198 0.5485)" font-size="100" stroke="#fff" stroke-width="1.10">1.00</text>
<text transform="translate(81.63 1705.17) scale(0.5270 0.5556)" font-size="100" stroke="#fff" stroke-width="1.10">0.0</text>
<text transform="translate(81.63 1554.49) scale(0.5270 0.5556)" font-size="100" stroke="#fff" stroke-width="1.10">0.5</text>
<text transform="translate(81.63 1403.82) scale(0.5270 0.5556)" font-size="100" stroke="#fff" stroke-width="1.10">1.0</text>
<text transform="translate(81.63 1253.14) scale(0.5270 0.5556)" font-size="100" stroke="#fff" stroke-width="1.10">1.5</text>
<text transform="translate(81.63 1102.47) scale(0.5270 0.5556)" font-size="100" stroke="#fff" stroke-width="1.10">2.0</text>
<text transform="translate(471.76 980.46) scale(0.8080 0.7404)" font-size="100" font-style="italic" stroke="#fff" stroke-width="1.10">t</text>
<text transform="translate(513.59 982.64) scale(0.9011 0.5680)" font-size="100" stroke="#fff" stroke-width="0.00">=</text>
<text transform="translate(579.87 980.71) scale(0.6282 0.6618)" font-size="100" stroke="#fff" stroke-width="1.10">6.00</text>
<text transform="translate(546.38 1791.75) scale(0.5537 0.5309)" font-size="100" font-style="italic" stroke="#fff" stroke-width="1.10">ρ</text>
<text transform="translate(572.18 1799.47) scale(0.4174 0.4281)" font-size="100" stroke="#fff" stroke-width="0.45">tor</text>
<g transform="translate(53.8 1428.7) rotate(-90)">
<text transform="translate(-4.35 0.20) scale(0.6691 0.5862)" font-size="100" font-style="italic" stroke="#fff" stroke-width="1.10">T</text>
<text transform="translate(30.77 8.23) scale(0.3769 0.3687)" font-size="100" font-style="italic" stroke="#fff" stroke-width="0.45">e</text>
<text transform="translate(68.51 4.48) scale(0.3318 0.6679)" font-size="100" stroke="#fff" stroke-width="1.10">[</text>
<text transform="translate(79.18 -0.03) scale(0.5107 0.5532)" font-size="100" stroke="#fff" stroke-width="1.10">keV</text>
<text transform="translate(163.46 4.48) scale(0.3244 0.6679)" font-size="100" stroke="#fff" stroke-width="1.10">]</text>
</g>
<rect x="182.2" y="1452.2" width="471.7" height="215.6" rx="6" ry="6" fill="#fff" fill-opacity="0.8" stroke="#ccc" stroke-opacity="0.8" stroke-width="2.5"/>
<path d="M193.8 1479.3H267.8" stroke="#0000ff" stroke-width="4.0" fill="none"/>
<path d="M193.8 1532.9H267.8" stroke="#ff0000" stroke-width="4.0" fill="none"/>
<path d="M193.8 1586.4H267.8" stroke="#bf00bf" stroke-width="4.0" fill="none"/>
<path d="M231 1618.1V1652.5" stroke="#808080" stroke-width="3.9" fill="none"/>
<path d="M231 1629.93L236.37 1635.3L231 1640.67L225.63 1635.3Z" fill="#808080"/>
<text transform="translate(293.72 1487.25) scale(0.4411 0.3700)" font-size="100" stroke="#fff" stroke-width="0.45">T,</text>
<text transform="translate(338.18 1487.18) scale(0.4329 0.3527)" font-size="100" font-style="italic" stroke="#fff" stroke-width="0.45">n</text>
<text transform="translate(359.23 1491.98) scale(0.2897 0.2208)" font-size="100" font-style="italic" stroke="#fff" stroke-width="0.45">e</text>
<text transform="translate(383.74 1487.27) scale(0.3325 0.4164)" font-size="100" stroke="#fff" stroke-width="0.45">*</text>
<text transform="translate(412.16 1486.20) scale(0.3272 0.3363)" font-size="100" stroke="#fff" stroke-width="0.45">1.25</text>
<text transform="translate(293.72 1540.65) scale(0.4411 0.3700)" font-size="100" stroke="#fff" stroke-width="0.45">T,</text>
<text transform="translate(338.18 1540.58) scale(0.4329 0.3527)" font-size="100" font-style="italic" stroke="#fff" stroke-width="0.45">n</text>
<text transform="translate(359.23 1545.38) scale(0.2897 0.2208)" font-size="100" font-style="italic" stroke="#fff" stroke-width="0.45">e</text>
<text transform="translate(383.74 1540.67) scale(0.3325 0.4164)" font-size="100" stroke="#fff" stroke-width="0.45">*</text>
<text transform="translate(411.98 1541.03) scale(0.3469 0.3580)" font-size="100" stroke="#fff" stroke-width="0.45">1.25,</text>
<text transform="translate(492.88 1540.58) scale(0.4329 0.3527)" font-size="100" font-style="italic" stroke="#fff" stroke-width="0.45">n</text>
<text transform="translate(513.76 1544.55) scale(0.2689 0.2287)" font-size="100" stroke="#fff" stroke-width="0.45">imp</text>
<text transform="translate(567.94 1540.67) scale(0.3325 0.4164)" font-size="100" stroke="#fff" stroke-width="0.45">*</text>
<text transform="translate(595.85 1539.60) scale(0.3502 0.3363)" font-size="100" stroke="#fff" stroke-width="0.45">1.2</text>
<text transform="translate(293.72 1594.15) scale(0.4411 0.3700)" font-size="100" stroke="#fff" stroke-width="0.45">T,</text>
<text transform="translate(338.18 1594.08) scale(0.4329 0.3527)" font-size="100" font-style="italic" stroke="#fff" stroke-width="0.45">n</text>
<text transform="translate(359.23 1598.88) scale(0.2897 0.2208)" font-size="100" font-style="italic" stroke="#fff" stroke-width="0.45">e</text>
<text transform="translate(383.74 1594.17) scale(0.3325 0.4164)" font-size="100" stroke="#fff" stroke-width="0.45">*</text>
<text transform="translate(411.98 1594.53) scale(0.3469 0.3580)" font-size="100" stroke="#fff" stroke-width="0.45">1.25,</text>
<text transform="translate(492.88 1594.08) scale(0.4329 0.3527)" font-size="100" font-style="italic" stroke="#fff" stroke-width="0.45">n</text>
<text transform="translate(513.76 1598.05) scale(0.2689 0.2287)" font-size="100" stroke="#fff" stroke-width="0.45">imp</text>
<text transform="translate(567.94 1594.17) scale(0.3325 0.4164)" font-size="100" stroke="#fff" stroke-width="0.45">*</text>
<text transform="translate(595.85 1593.10) scale(0.3502 0.3363)" font-size="100" stroke="#fff" stroke-width="0.45">1.5</text>
<text transform="translate(293.59 1646.67) scale(0.3711 0.3491)" font-size="100" stroke="#fff" stroke-width="0.45">Exp.</text>
<text transform="translate(378.64 1647.54) scale(0.3859 0.3624)" font-size="100" stroke="#fff" stroke-width="0.45">Data</text>
</svg>
</body></html>
